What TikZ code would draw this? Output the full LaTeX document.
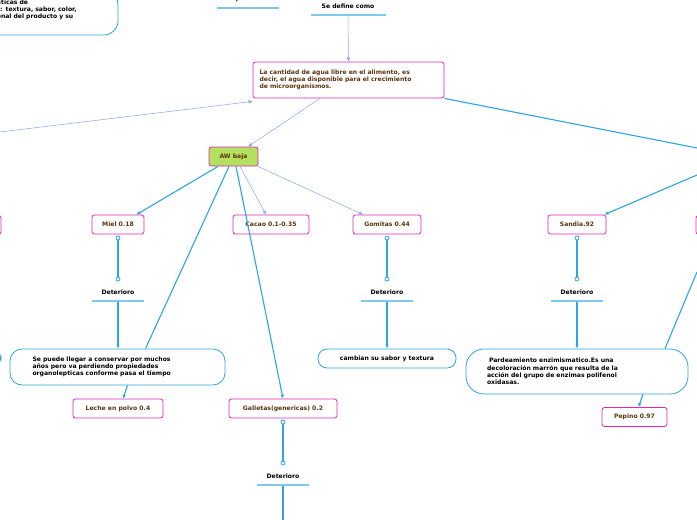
\documentclass[tikz,border=0pt]{standalone}
\usepackage{fontspec}
\setmainfont{DejaVu Sans}
\usetikzlibrary{arrows.meta}
\definecolor{conblue}{HTML}{2BA5E3}
\definecolor{thinblue}{HTML}{7FA8EC}
\definecolor{boxpink}{HTML}{E025B5}
\definecolor{textbrown}{HTML}{5C3510}
\definecolor{awgreen}{HTML}{B3E05E}
\begin{document}
\begin{tikzpicture}[x=1pt, y=-1pt, font=\fontsize{6.1}{7.2}\selectfont\bfseries, >={Latex[length=4pt,width=3.5pt]}]
    \tikzstyle{concept}=[draw=boxpink, thick, rounded corners=2.5pt, fill=white, text=textbrown, inner sep=0pt]
    \tikzstyle{note}=[draw=conblue, thick, rounded corners=12pt, fill=white, inner sep=0pt, align=left]
    \tikzstyle{link}=[inner sep=0pt]
    \tikzstyle{thick link}=[draw=conblue, line width=1.1pt]
    \tikzstyle{thin link}=[draw=thinblue, line width=0.5pt]
    \tikzstyle{dot}=[circle, draw=conblue, fill=white, line width=0.8pt, minimum size=4pt, inner sep=0pt]
    \tikzstyle{bar}=[draw=conblue!60, line width=1.2pt]

    \useasboundingbox (0,0) rectangle (697,520);
    \clip (0,0) rectangle (697,520);

    % Border coordinates
    \coordinate (top) at (122,0);
    \coordinate (left in) at (0,132);
    \coordinate (right in) at (697,148);
    \coordinate (right out) at (697,175);
    \coordinate (right low) at (697,272);
    \coordinate (bottom) at (283,520);

    % Boxes
    \node[note, rounded corners=14pt, minimum width=170pt, minimum height=44pt, text width=156pt] (calidad) at (33,13)
        {las caracter\'isticas de\\calidad como: textura, sabor, color,\\valor nutricional del producto y su\\aceptaci\'on.};
    \node[concept, minimum width=191pt, minimum height=36pt, text width=178pt, align=left] (agua) at (348.5,80)
        {La cantidad de agua libre en el alimento, es\\decir, el agua disponible para el crecimiento\\de microorganismos.};
    \node[concept, fill=awgreen, minimum width=49pt, minimum height=19pt] (aw) at (233.5,156.5) {AW baja};
    \node[concept, minimum width=52pt, minimum height=19pt] (miel) at (118,224.5) {Miel 0.18};
    \node[concept, minimum width=76pt, minimum height=19pt] (cacao) at (271,224.5) {Cacao 0.1-0.35};
    \node[concept, minimum width=68pt, minimum height=19pt] (gomitas) at (387,224.5) {Gomitas 0.44};
    \node[concept, minimum width=58pt, minimum height=19pt] (sandia) at (577,224.5) {Sandia.92};
    \node[concept, minimum width=30pt, minimum height=19pt] (left box) at (-14,225) {};
    \node[concept, minimum width=30pt, minimum height=19pt] (right box) at (711,225) {};
    \node[note, minimum width=30pt, minimum height=17pt] (left note) at (-14,358) {};
    \node[note, minimum width=215pt, minimum height=36pt, text width=170pt] (conservar) at (117.5,367)
        {Se puede llegar a conservar por muchos\\a\~nos pero va perdiendo propiedades\\organolepticas conforme pasa el tiempo};
    \node[concept, minimum width=90pt, minimum height=19pt] (leche) at (118,408.5) {Leche en polvo 0.4};
    \node[concept, minimum width=108pt, minimum height=19pt] (galletas) at (283,408.5) {Galletas(genericas) 0.2};
    \node[note, rounded corners=9pt, minimum width=138pt, minimum height=19pt] (sabor) at (387,358.5) {cambian su sabor y textura};
    \node[note, rounded corners=18pt, minimum width=222pt, minimum height=45pt, text width=180pt] (pardeamiento) at (577,371.5)
        {\ Pardeamiento enzimismatico.Es una\\decoloraci\'on marr\'on que resulta de la\\acci\'on del grupo de enzimas polifenol\\oxidasas.};
    \node[concept, minimum width=65pt, minimum height=19pt] (pepino) at (634.5,417) {Pepino 0.97};

    % Link labels
    \node[link] (importancia) at (248,-1) {importancia};
    \node[link] (define) at (348,6) {Se define como};
    \foreach \name/\x/\y in {det miel/118/292, det gomitas/387/292, det sandia/577/292, det galletas/283/476}
        \node[link] (\name) at (\x,\y) {Deterioro};
    \draw[bar] (217,8) -- (279,8);
    \draw[bar] (311,15) -- (386,15);
    \foreach \x/\y in {118/301, 387/301, 577/301, 283/485}
        \draw[bar] (\x-26,\y) -- (\x+26,\y);

    % Connectors
    \draw[thin link, ->] (348,16) -- (agua.north);
    \draw[thick link, ->] (calidad.north east) ++(-32,-2) -- (top);
    \draw[thin link, ->] (left in) -- ([yshift=-3pt]agua.south west);
    \draw[thick link] (agua.south east) -- (right in);
    \draw[thin link, ->] (agua.south -| 320,0) -- (aw.north -| 248,0);
    \draw[thick link, ->] (aw.south -| 218,0) -- ([xshift=-8pt]miel.north east);
    \draw[thick link] (aw.south -| 229,0) -- ([xshift=28pt]conservar.north);
    \draw[thin link, ->] (aw.south -| 240,0) -- ([xshift=-5pt]cacao.north);
    \draw[thick link, ->] (aw.south -| 236,0) -- (galletas.north);
    \draw[thin link, ->] (aw.south -| 258,0) -- ([xshift=-24pt]gomitas.north);
    \draw[thick link, ->] (right out) -- ([xshift=-2pt]sandia.north east);
    \draw[thick link] (right low) -- ([xshift=88pt]pardeamiento.north);
    \draw[thick link, ->] ([xshift=10pt]conservar.south) -- ([xshift=5pt]leche.north);
    \draw[thick link, ->] ([xshift=66pt]pardeamiento.south) -- ([xshift=4pt]pepino.north);

    % Deterioro chains
    \foreach \from/\x/\lab/\to in {miel/118/det miel/conservar, gomitas/387/det gomitas/sabor, sandia/577/det sandia/pardeamiento} {
        \node[dot] (\from-a) at (\x,238) {};
        \node[dot] (\from-b) at (\x,279) {};
        \draw[thick link] (\from-a) -- (\from-b);
        \draw[thick link, ->] (\x,302) -- (\to.north -| \x,0);
    }
    \node[dot] (galletas-a) at (283,422) {};
    \node[dot] (galletas-b) at (283,463) {};
    \draw[thick link] (galletas-a) -- (galletas-b);
    \draw[thick link] (283,486) -- (bottom);
\end{tikzpicture}
\end{document}
